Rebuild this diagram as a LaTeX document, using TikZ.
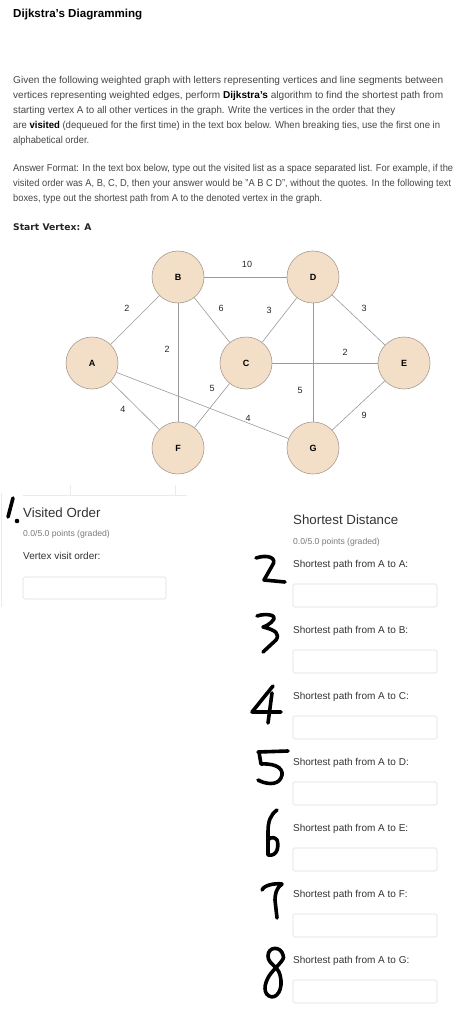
\documentclass[tikz,border=0pt]{standalone}
\usepackage{graphicx}
\usepackage{fontspec}
\setmainfont{Liberation Sans}
\newfontfamily\verd{DejaVu Sans}
\definecolor{txt}{HTML}{474747}
\definecolor{pts}{HTML}{7A7A7A}
\definecolor{boxc}{HTML}{DDDDDD}
\definecolor{edgec}{HTML}{9A9A9A}
\definecolor{nodeb}{HTML}{A89C90}
\definecolor{nodef}{HTML}{F3DEC8}
\newcommand{\fitline}[2]{\resizebox{#1pt}{\height}{#2}}
\begin{document}
\begin{tikzpicture}[x=1pt,y=-1pt,
  para/.style={anchor=base west,inner sep=0pt,text=txt,font=\fontsize{10}{12}\selectfont},
  vtx/.style={circle,draw=nodeb,fill=nodef,line width=0.6pt,minimum size=52pt,inner sep=0pt,font=\fontsize{9}{10}\selectfont\bfseries},
  edg/.style={draw=edgec,line width=0.6pt},
  wlab/.style={inner sep=0pt,font=\fontsize{9}{10}\selectfont,text=black!85},
  head/.style={anchor=base west,inner sep=0pt,text=black!80,font=\fontsize{13.3}{15}\selectfont},
  ptsl/.style={anchor=base west,inner sep=0pt,text=pts,font=\fontsize{8.6}{10}\selectfont},
  qlab/.style={anchor=base west,inner sep=0pt,text=black!80,font=\fontsize{10}{12}\selectfont},
  ibox/.style={draw=boxc,line width=0.6pt,rounded corners=1.5pt,fill=white},
  hand/.style={draw=black,line width=3.6pt,line cap=round,line join=round},
  frame/.style={draw=black!8,line width=0.7pt}]
\useasboundingbox (0,0) rectangle (471,1024);
\fill[white] (0,0) rectangle (471,1024);

% title and text
\node[anchor=base west,inner sep=0pt,font=\fontsize{11.6}{13}\selectfont\bfseries] (title) at (13,18) {Dijkstra's Diagramming};
\node[para] (p1) at (13,84) {\fitline{430}{Given the following weighted graph with letters representing vertices and line segments between}};
\node[para] (p2) at (13,99) {\fitline{430}{vertices representing weighted edges, perform \textbf{\color{black}Dijkstra's} algorithm to find the shortest path from}};
\node[para] (p3) at (13,114) {\fitline{382}{starting vertex A to all other vertices in the graph. Write the vertices in the order that they}};
\node[para] (p4) at (13,129) {\fitline{427}{are \textbf{\color{black}visited} (dequeued for the first time) in the text box below. When breaking ties, use the first one in}};
\node[para] (p5) at (13,144) {\fitline{76}{alphabetical order.}};
\node[para] (q1) at (13,172) {\fitline{440}{Answer Format: In the text box below, type out the visited list as a space separated list. For example, if the}};
\node[para] (q2) at (13,187) {\fitline{438}{visited order was A, B, C, D, then your answer would be "A B C D", without the quotes. In the following text}};
\node[para] (q3) at (13,202) {\fitline{309}{boxes, type out the shortest path from A to the denoted vertex in the graph.}};
\node[anchor=base west,inner sep=0pt,font=\verd\fontsize{9.2}{11}\selectfont\bfseries,text=black!85] (sv) at (13,230) {Start Vertex: A};

% graph
\node[vtx] (B) at (178,277) {B};
\node[vtx] (D) at (313,277) {D};
\node[vtx] (A) at (92,363) {A};
\node[vtx] (C) at (246,363) {C};
\node[vtx] (E) at (404,363) {E};
\node[vtx] (F) at (178,448) {F};
\node[vtx] (G) at (313,448) {G};
\path[edg] (A) -- (B);
\path[edg] (A) -- (F);
\path[edg] (A) -- (G);
\path[edg] (B) -- (D);
\path[edg] (B) -- (C);
\path[edg] (B) -- (F);
\path[edg] (C) -- (D);
\path[edg] (C) -- (E);
\path[edg] (C) -- (F);
\path[edg] (D) -- (E);
\path[edg] (D) -- (G);
\path[edg] (E) -- (G);
\node[wlab] (w1) at (247,264) {10};
\node[wlab] (w2) at (127,308) {2};
\node[wlab] (w3) at (221,308) {6};
\node[wlab] (w4) at (269,310) {3};
\node[wlab] (w5) at (364,308) {3};
\node[wlab] (w6) at (167,349) {2};
\node[wlab] (w7) at (345,352) {2};
\node[wlab] (w8) at (212,388) {5};
\node[wlab] (w9) at (300,390) {5};
\node[wlab] (w10) at (123,409) {4};
\node[wlab] (w11) at (248,418) {4};
\node[wlab] (w12) at (364,415) {9};

% left panel frame
\coordinate (fa) at (23,495);
\coordinate (fb) at (187,495);
\draw[frame] (fa) -- (fb);
\draw[frame] (70,485) -- (70,495);
\draw[frame] (175,485) -- (175,495);
\draw[frame] (1,493) -- (1,607);

\node[head] (vo) at (23,517) {Visited Order};
\node[ptsl] (vop) at (23,536) {0.0/5.0 points (graded)};
\node[qlab] (vvo) at (23,559) {Vertex visit order:};
\draw[ibox] (23,577) rectangle (166,599);

% right panel
\node[head] (sd) at (293,524) {Shortest Distance};
\node[ptsl] (sdp) at (293,544) {0.0/5.0 points (graded)};
\foreach \L [count=\i from 0] in {A,B,C,D,E,F,G} {
  \node[qlab] (sp\L) at (293,567+66*\i) {Shortest path from A to \L:};
  \draw[ibox] (293,584+66*\i) rectangle (437,607+66*\i);
}

% handwritten numbers
\draw[hand] (13,498) -- (8,517);
\fill (17,521) circle (2.3pt);
\draw[hand] (256,558) .. controls (268,554) and (278,558) .. (272,566) -- (264,580) -- (285,582);
\draw[hand] (257,616) .. controls (266,613) and (276,615) .. (274,619) .. controls (271,624) and (264,627) .. (263,627) .. controls (276,630) and (280,634) .. (276,640) -- (263,652);
\draw[hand] (273,686) -- (252,712) -- (281,712);
\draw[hand] (272,693) -- (268,723);
\draw[hand] (258,752) -- (288,751);
\draw[hand] (259,752) -- (261,764) .. controls (278,763) and (285,770) .. (281,778) .. controls (277,786) and (265,784) .. (258,780);
\draw[hand] (277,810) .. controls (270,815) and (268,822) .. (268,832) -- (268,855) .. controls (278,857) and (279,845) .. (277,840) .. controls (275,837) and (271,837) .. (269,839);
\draw[hand] (262,890) .. controls (264,885) and (275,883) .. (282,884) .. controls (276,888) and (275,895) .. (275,900) -- (277,918);
\draw[hand] (283,955) .. controls (281,946) and (268,946) .. (268,956) .. controls (268,964) and (278,966) .. (280,975) .. controls (284,990) and (276,1000) .. (269,996) .. controls (262,992) and (265,980) .. (272,972) .. controls (279,964) and (286,958) .. (283,955);
\end{tikzpicture}
\end{document}
